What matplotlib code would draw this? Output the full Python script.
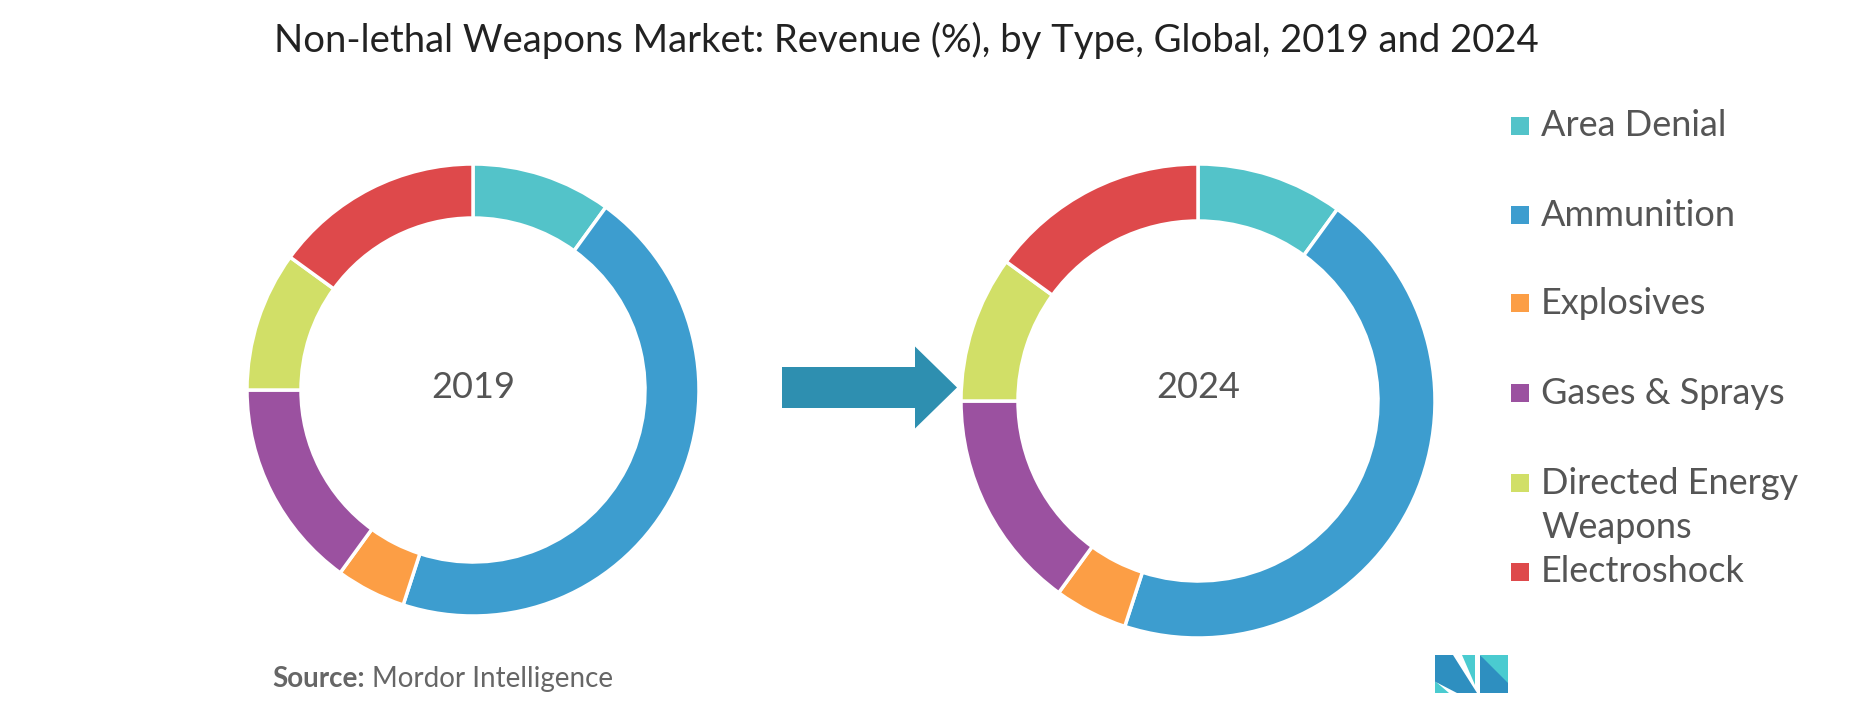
import matplotlib
matplotlib.use("Agg")
import matplotlib.pyplot as plt
import matplotlib.patches as mpatches

# data (share of revenue, %)
categories = ["Area Denial", "Ammunition", "Explosives", "Gases & Sprays",
              "Directed Energy\nWeapons", "Electroshock"]
share_2019 = [10, 45, 5, 15, 10, 15]
share_2024 = [10, 45, 5, 15, 10, 15]
years = ["2019", "2024"]

colors = ["#53C3C9", "#3D9DCF", "#FC9E45", "#9B51A0", "#D1DF67", "#DE494B"]
text_grey = "#555555"

W, H = 1852, 713
plt.rcParams["font.family"] = ["Lato", "DejaVu Sans"]

fig = plt.figure(figsize=(W / 100, H / 100), dpi=100)
# one axes over the whole figure, units = pixels (y measured from bottom)
ax = fig.add_axes([0, 0, 1, 1])

# donuts
donuts = [
    (share_2019, (473, H - 390), 226, 54),
    (share_2024, (1198, H - 401), 237, 57),
]
for (vals, center, r, ring), year in zip(donuts, years):
    ax.pie(vals, colors=colors, startangle=90, counterclock=False,
           center=center, radius=r, frame=True,
           wedgeprops=dict(width=ring, edgecolor="white", linewidth=2.5))
    ax.text(center[0], H - 387, year, ha="center", va="center",
            fontsize=26, color=text_grey)

# pie() resets the limits, so put them back
ax.set_xlim(0, W)
ax.set_ylim(0, H)
ax.set_aspect("equal")
ax.axis("off")

# arrow between the two years
arrow = mpatches.FancyArrow(782, H - 387.5, 175, 0, width=41, head_width=82,
                            head_length=42, length_includes_head=True,
                            color="#2E8FB0", linewidth=0)
ax.add_patch(arrow)

# legend, drawn by hand
legend_y = [126, 215, 303, 393, 483, 572]
for cat, col, y in zip(categories, colors, legend_y):
    ax.add_patch(mpatches.Rectangle((1511, H - y - 9), 18, 18, color=col, lw=0))
    lines = cat.split("\n")
    for k, line in enumerate(lines):
        ax.text(1541, H - y - 45 * k, line, ha="left", va="center",
                fontsize=26, color=text_grey)

# title
ax.text(274, H - 40, "Non-lethal Weapons Market: Revenue (%), by Type, Global, 2019 and 2024",
        ha="left", va="center", fontsize=27.5, color="#222222")

# source
src = ax.text(272, H - 679, "Source:", ha="left", va="center", fontsize=20,
              fontweight="bold", color="#666666")
ax.annotate("Mordor Intelligence", xy=(1, 0.5), xycoords=src,
            xytext=(5, 0), textcoords="offset points",
            ha="left", va="center", fontsize=20, color="#666666")

# small logo, bottom right
lx, ly, lh = 1435, H - 693, 38
dark, light = "#2E8FC0", "#4ACBD0"
logo = [
    ([(lx, ly), (lx, ly + 12), (lx + 14, ly)], light),
    ([(lx, ly + lh), (lx + 18, ly + lh), (lx + 42, ly), (lx + 22, ly), (lx, ly + lh * 0.3)], dark),
    ([(lx + 27, ly + lh), (lx + 40, ly + lh), (lx + 40, ly + 8)], light),
    ([(lx + 45, ly + lh), (lx + 73, ly + lh), (lx + 73, ly)], light),
    ([(lx + 45, ly + lh), (lx + 45, ly), (lx + 73, ly), (lx + 73, ly + 10)], dark),
]
for pts, col in logo:
    ax.add_patch(mpatches.Polygon(pts, closed=True, color=col, lw=0))

fig.savefig("out.png", dpi=100)
